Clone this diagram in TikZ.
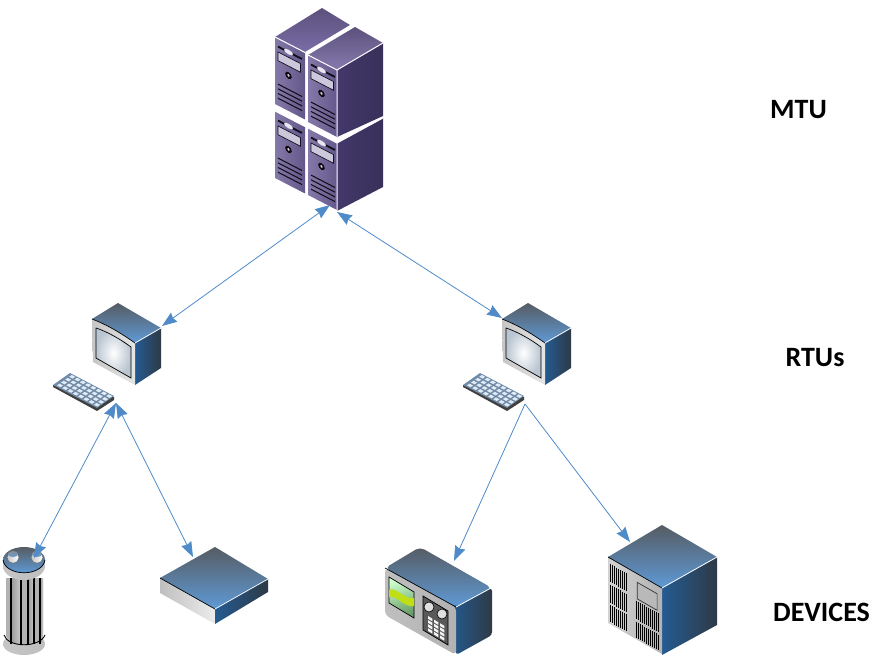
\documentclass[tikz,border=0pt]{standalone}
\usepackage{fontspec}
\setmainfont{Carlito}
\usetikzlibrary{arrows.meta}
\definecolor{devgrey}{HTML}{565C63}
\definecolor{devblue}{HTML}{5F9AD6}
\definecolor{sideblue}{HTML}{3079C2}
\definecolor{sidedark}{HTML}{2E3A46}
\definecolor{linkblue}{HTML}{4F8BC9}
\definecolor{purpletop}{HTML}{7A6CA6}
\definecolor{purplefront}{HTML}{6E6199}
\definecolor{purpleside}{HTML}{43386A}
\tikzset{
	devtop/.style={top color=devgrey,bottom color=devblue},
	devside/.style={left color=sideblue!75!black,middle color=sideblue,right color=sidedark},
	link/.style={draw=linkblue,line width=.8pt},
	twoway/.style={link,{Stealth[length=15pt,width=11pt,inset=1.5pt]}-{Stealth[length=15pt,width=11pt,inset=1.5pt]}},
	oneway/.style={link,-{Stealth[length=15pt,width=11pt,inset=1.5pt]}},
	tier/.style={font=\fontsize{28pt}{32pt}\selectfont\bfseries,text=black},
}
% one server box: front face, x along the bottom edge, y down
\newcommand{\serverfront}[2]{
	\begin{scope}[shift={(#1,#2)},x={(30,15.5)},y={(0,67)}]
	\shade[left color=purplefront!85!white,right color=purplefront!90!black] (0,0) -- (1,0) -- (1,1) -- (0,1) -- cycle;
	\draw[black!75!purpleside,line width=1.8pt] (.1,.12) -- (.9,.12);
	\fill[white!85!purplefront] (.45,.12) ellipse (.15 and .035);
	\draw[black!70!purpleside,fill=purplefront!35!white,line width=.7pt] (.1,.2) -- (.85,.2) -- (.85,.33) -- (.1,.33) -- cycle;
	\fill[black!80!purpleside] (.45,.47) ellipse (.11 and .05);
	\fill[white!70!purplefront] (.45,.47) ellipse (.045 and .02);
	\foreach \v in {.68,.75,.82,.89}
		\draw[black!80!purpleside,line width=1pt] (.1,\v) -- (.9,\v);
	\draw[white,line width=1pt] (0,0) -- (1,0);
	\end{scope}
}
% monitor plus keyboard
\newcommand{\terminal}[2]{
	\begin{scope}[shift={(#1,#2)}]
	\shade[devtop] (92,319) -- (118,303) -- (161,328) -- (135,343) .. controls (118,331) and (105,324) .. cycle;
	\shade[devside] (135,343) -- (161,328) -- (161,368) -- (135,385) -- cycle;
	\shade[left color=gray!45,right color=gray!20] (92,319) .. controls (105,324) and (118,331) .. (135,343) -- (135,385) -- (93,362) -- cycle;
	\draw[black,line width=.7pt] (92,319) .. controls (105,324) and (118,331) .. (135,343);
	\draw[white,line width=.8pt] (135,343) -- (161,328);
	\shade[draw=black,line width=.7pt,inner color=white,outer color=devblue!40!gray!50] (96,328) .. controls (108,332) and (120,339) .. (131,347) -- (131,378) -- (96,358) -- cycle;
	\fill[black!75] (53,385) -- (53,387) -- (97,411) -- (114,400) -- (114,397) -- cycle;
	\begin{scope}[shift={(53,385)},x={(44pt,-23pt)},y={(17pt,12pt)}]
	\fill[gray!55!devblue] (0,0) -- (1,0) -- (1,1) -- (0,1) -- cycle;
	\foreach \u in {.06,.18,.3,.42,.54,.66,.78,.9} \foreach \v in {.08,.32,.56,.8}
		\fill[white!80!devblue] (\u,\v) -- ++(.08,0) -- ++(0,.15) -- ++(-.08,0) -- cycle;
	\end{scope}
	\end{scope}
}
\begin{document}
\begin{tikzpicture}[x=1pt,y=-1pt]
	\useasboundingbox (0,0) rectangle (886,668);

	% MTU
	\shade[top color=purpletop!75!black,bottom color=purpletop] (275,37) -- (322,8) -- (350,25) -- (305,52) -- cycle;
	\serverfront{275}{37}
	\serverfront{275}{111}
	\shade[top color=purpletop!75!black,bottom color=purpletop!90!white] (308,55) -- (355,27) -- (383,43) -- (337,70) -- cycle;
	\serverfront{308}{128}
	\shade[left color=purpleside,right color=purpleside!85!black] (337,143) -- (383,118) -- (383,187) -- (337,211) -- cycle;
	\serverfront{308}{55}
	\shade[left color=purpleside,right color=purpleside!85!black] (337,70) -- (383,43) -- (383,116) -- (337,137) -- cycle;
	\draw[white,line width=1pt] (337,70) -- (383,43) (337,143) -- (383,118) (337,70) -- (337,137) (337,143) -- (337,211);

	% RTUs
	\terminal{0}{0}
	\terminal{410}{0}

	% tank
	\shade[left color=gray!45,middle color=white,right color=gray!50] (24,644) ellipse (21 and 11);
	\shade[left color=gray!60,middle color=white,right color=gray!60] (6,578) -- (43,578) -- (43,636) .. controls (36,648) and (13,648) .. (6,636) -- cycle;
	\foreach \xa/\xb in {11/21,28/34,40/43}
		\shade[left color=gray!80,right color=gray!40] (\xa,578) -- (\xb,578) -- (\xb,642) -- (\xa,642) -- cycle;
	\foreach \xa in {11,21,28,34,40}
		\draw[black,line width=1.2pt] (\xa,578) -- (\xa,644);
	\draw[black,line width=.9pt] (4,635) .. controls (8,648) and (40,648) .. (45,635);
	\shade[left color=gray!45,middle color=white,right color=gray!50] (24,566) ellipse (21 and 14);
	\shade[devtop] (24,560) ellipse (21 and 13);
	\draw[black,line width=.7pt] (3,560) .. controls (6,577) and (42,577) .. (45,560);
	\foreach \kx in {13,37}{
		\shade[left color=gray!45,right color=white,draw=black!60,line width=.4pt] (\kx,557.5) ellipse (6 and 5.5);
		\shade[top color=devgrey!70!white,bottom color=devblue] (\kx,554) ellipse (5 and 3);
	}

	% flat box
	\shade[left color=gray!50,right color=white!85!gray] (160,578) -- (215,609) -- (215,624) -- (160,593) -- cycle;
	\shade[devside] (215,609) -- (268,579) -- (268,592) -- (215,624) -- cycle;
	\shade[devtop] (160,578) -- (215,547) -- (268,579) -- (215,609) -- cycle;
	\draw[black,line width=.7pt] (160,578) -- (215,609);
	\draw[white,line width=.7pt] (215,609) -- (268,579);

	% meter
	\shade[devside,rounded corners=3pt] (450,600) -- (492,588) -- (492,635) -- (456,655) -- cycle;
	\shade[left color=gray!50,middle color=white!90!gray,right color=gray!60,rounded corners=4pt] (385,568) -- (456,607) -- (456,655) -- (385,615) -- cycle;
	\shade[devtop,rounded corners=5pt] (385,568) -- (420,547) -- (492,588) -- (456,607) -- cycle;
	\draw[black,line width=.7pt] (385,568) -- (456,607);
	\draw[white,line width=.8pt] (456,607) -- (491,588);
	\shade[draw=black,line width=.7pt,top color=white!80!green,bottom color=green!35!black!60!white,shading angle=20] (389,577) -- (414,592) -- (414,618) -- (389,603) -- cycle;
	\fill[yellow!75!green] (389,590) .. controls (396,586) and (404,600) .. (414,598) -- (414,606) .. controls (404,608) and (396,594) .. (389,597) -- cycle;
	\draw[black,line width=.7pt,fill=gray!70!black] (423,596) -- (448,611) -- (448,645) -- (423,630) -- cycle;
	\foreach \kx/\ky in {429/607,442/614}
		\draw[black,line width=.6pt,fill=gray!25] (\kx,\ky) circle (5);
	\begin{scope}[shift={(423,596)},x={(25,15)},y={(0,34)}]
	\foreach \u in {.2,.44,.68} \foreach \v in {.5,.62,.74,.86}
		\fill[white!92!gray] (\u,\v) -- ++(.17,0) -- ++(0,.08) -- ++(-.17,0) -- cycle;
	\end{scope}

	% cabinet
	\shade[devside] (662,588) -- (717,557) -- (717,625) -- (662,655) -- cycle;
	\begin{scope}[shift={(608,557)},x={(54,31)},y={(0,66)}]
	\shade[left color=gray!35,middle color=white!95!gray,right color=gray!60] (0,0) -- (1,0) -- (1,1) -- (0,1) -- cycle;
	\foreach \va/\vb in {.09/.36,.4/.68,.71/.97}
		\foreach \u in {.04,.077,...,.36}
			\draw[black,line width=.9pt] (\u,\va) -- (\u,\vb);
	\foreach \va/\vb in {.42/.7,.74/.98}
		\foreach \u in {.52,.557,...,.96}
			\draw[black,line width=.9pt] (\u,\va) -- (\u,\vb);
	\draw[black!80,line width=.7pt,fill=gray!55] (.54,.13) -- (.91,.13) -- (.91,.38) -- (.54,.38) -- cycle;
	\end{scope}
	\shade[devtop] (608,557) -- (662,525) -- (717,557) -- (662,588) -- cycle;
	\draw[black,line width=.7pt] (608,557) -- (662,588);
	\draw[white,line width=.8pt] (662,588) -- (717,557);

	% end points of the links
	\coordinate (mtuL) at (330,205);
	\coordinate (mtuR) at (337,212);
	\coordinate (rtuA) at (162,326);
	\coordinate (rtuB) at (502,318);
	\coordinate (kbdA) at (116,403);
	\coordinate (kbdB) at (525,404);
	\coordinate (tank) at (34,558);
	\coordinate (flat) at (193,557);
	\coordinate (meter) at (454,561);
	\coordinate (cabinet) at (630,542);

	\draw[twoway] (mtuL) -- (rtuA);
	\draw[twoway] (mtuR) -- (rtuB);
	\draw[twoway] (kbdA) -- (tank);
	\draw[twoway] (kbdA) -- (flat);
	\draw[oneway] (kbdB) -- (meter);
	\draw[oneway] (kbdB) -- (cabinet);

	\node[tier] (mtuLabel) at (798.5,110) {MTU};
	\node[tier] (rtuLabel) at (815,357.5) {RTUs};
	\node[tier] (devLabel) at (821.5,612) {DEVICES};
\end{tikzpicture}
\end{document}
